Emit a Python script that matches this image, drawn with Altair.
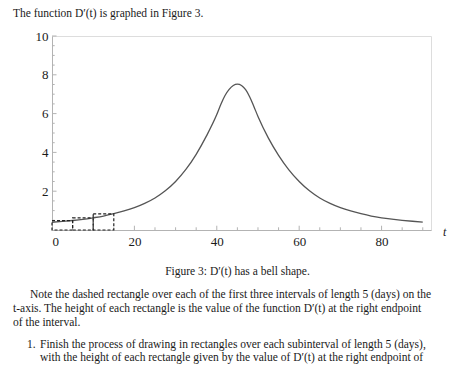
import altair as alt
import pandas as pd

# ---- data ----
t_vals = [0, 2.5, 5, 7.5, 10, 12.5, 15, 17.5, 20, 22.5, 25, 27.5, 30, 32.5, 35, 37.5,
          40, 41, 42, 43, 44, 45, 46, 47, 48, 49, 50, 52.5, 55, 57.5, 60, 62.5, 65,
          67.5, 70, 72.5, 75, 77.5, 80, 82.5, 85, 87.5, 90]
d_vals = [0.40, 0.44, 0.49, 0.55, 0.63, 0.72, 0.84, 0.98, 1.15, 1.37, 1.65, 2.02, 2.50,
          3.12, 3.90, 4.85, 5.95, 6.48, 6.93, 7.25, 7.45, 7.52, 7.45, 7.23, 6.86, 6.37,
          5.85, 4.75, 3.85, 3.10, 2.50, 2.02, 1.65, 1.37, 1.15, 0.98, 0.84, 0.72, 0.63,
          0.56, 0.50, 0.45, 0.41]

rect_left = [0, 5, 10]
rect_right = [5, 10, 15]
rect_height = [0.48, 0.62, 0.83]

x_labels = [0, 20, 40, 60, 80]
y_labels = [2, 4, 6, 8, 10]
x_major_ticks = [20, 40, 60, 80]
x_minor_ticks = [5, 10, 15, 25, 30, 35, 45, 50, 55, 65, 70, 75, 85, 90]
y_major_ticks = [2, 4, 6, 8, 10]
y_minor_ticks = [0.5, 1, 1.5, 2.5, 3, 3.5, 4.5, 5, 5.5, 6.5, 7, 7.5, 8.5, 9, 9.5]

title_text = "The function D\u2032(t) is graphed in Figure 3."
caption_text = "Figure 3:  D\u2032(t) has a bell shape."
para_lines = [
    "Note the dashed rectangle over each of the first three intervals of length 5 (days) on the",
    "t-axis. The height of each rectangle is the value of the function D\u2032(t) at the right endpoint",
    "of the interval.",
]
item_number = "1."
item_lines = [
    "Finish the process of drawing in rectangles over each subinterval of length 5 (days),",
    "with the height of each rectangle given by the value of D\u2032(t) at the right endpoint of",
]

# ---- build ----
FONT = "Liberation Serif"
TXT = "#1a1a1a"
AX = "#b3b3b3"

xs = alt.Scale(domain=[0, 92], nice=False, zero=False)
ys = alt.Scale(domain=[0, 10], nice=False, zero=False)

curve_df = pd.DataFrame({"t": t_vals, "d": d_vals})
rect_df = pd.DataFrame({"x1": rect_left, "x2": rect_right, "h": rect_height, "y0": [0] * 3})

base_axes = alt.Chart(curve_df).mark_line(color="#555555", strokeWidth=1.3,
                                          interpolate="monotone").encode(
    x=alt.X("t:Q", scale=xs, axis=alt.Axis(values=x_labels, ticks=False, tickSize=0,
                                           domainColor=AX, labelFont=FONT, labelFontSize=13,
                                           labelColor=TXT, labelPadding=5, grid=False,
                                           title=None, format="d")),
    y=alt.Y("d:Q", scale=ys, axis=alt.Axis(values=y_labels, ticks=False, tickSize=0,
                                           domainColor=AX, labelFont=FONT, labelFontSize=13,
                                           labelColor=TXT, labelPadding=4, grid=False,
                                           title=None, format="d")),
)

rects = alt.Chart(rect_df).mark_rect(fillOpacity=0, stroke="#222222", strokeDash=[3, 2],
                                     strokeWidth=1.2).encode(
    x=alt.X("x1:Q", scale=xs), x2="x2:Q",
    y=alt.Y("y0:Q", scale=ys), y2="h:Q",
)

def xticks(vals, length):
    df = pd.DataFrame({"t": vals, "a": [0] * len(vals), "b": [length] * len(vals)})
    return alt.Chart(df).mark_rule(color=AX, strokeWidth=1).encode(
        x=alt.X("t:Q", scale=xs), y=alt.Y("a:Q", scale=ys), y2="b:Q")

def yticks(vals, length):
    df = pd.DataFrame({"v": vals, "a": [0] * len(vals), "b": [length] * len(vals)})
    return alt.Chart(df).mark_rule(color=AX, strokeWidth=1).encode(
        y=alt.Y("v:Q", scale=ys), x=alt.X("a:Q", scale=xs), x2="b:Q")

dummy = pd.DataFrame({"k": [0]})

def text(s, x, y, align="left", size=11.5, style="normal"):
    return alt.Chart(dummy).mark_text(text=s, align=align, baseline="middle", font=FONT,
                                      fontSize=size, color=TXT, fontStyle=style).encode(
        x=alt.value(x), y=alt.value(y))

layers = [
    xticks(x_major_ticks, 0.22), xticks(x_minor_ticks, 0.14),
    yticks(y_major_ticks, 1.1), yticks(y_minor_ticks, 0.65),
    base_axes, rects,
    text(title_text, -39, -22),
    text("t", 391, 196, size=12, style="italic"),
    text(caption_text, 185.5, 236, align="center"),
    text(para_lines[0], -22, 259),
    text(para_lines[1], -39, 273),
    text(para_lines[2], -39, 287),
    text(item_number, -25, 309),
    text(item_lines[0], -12, 309),
    text(item_lines[1], -12, 322),
]

chart = alt.layer(*layers).properties(
    width=379, height=194,
    autosize=alt.AutoSizeParams(type="none"),
    padding={"left": 44, "top": 28, "right": 35, "bottom": 134},
).configure_view(stroke=None).configure(background="white")

chart.save("out.html", embed_options={"renderer": "svg", "actions": False})
